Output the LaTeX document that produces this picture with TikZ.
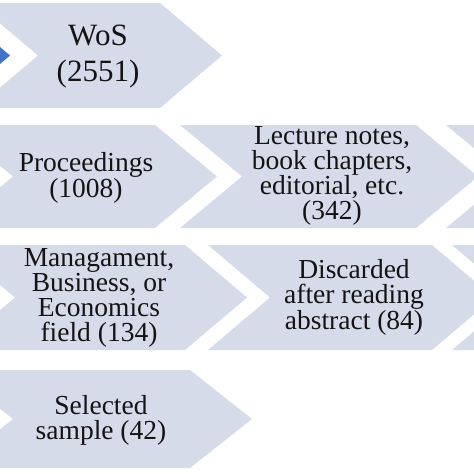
\documentclass[tikz,border=0pt]{standalone}
\usepackage{fontspec}
\setmainfont{Liberation Serif}
\usetikzlibrary{positioning}

% chevron: left x, top-right corner x, top y, bottom y
\newcommand{\chev}[5][boxfill]{%
	\fill[#1] (#2,#4) -- (#3,#4) -- (#3+62,{(#4+#5)/2}) -- (#3,#5) -- (#2,#5) -- (#2+62,{(#4+#5)/2}) -- cycle;}

\begin{document}
\begin{tikzpicture}[x=1pt, y=-1pt, boxfill/.style={fill={rgb,255:red,214;green,219;blue,234}}, blueboxfill/.style={fill={rgb,255:red,68;green,114;blue,196}}, main text/.style={align=center, inner sep=0pt, text={rgb,255:red,20;green,20;blue,20}, font=\fontsize{27.5}{25}\selectfont}]
	\useasboundingbox (0,0) rectangle (474,474);
	\clip (0,0) rectangle (474,474);
	\fill[white] (0,0) rectangle (474,474);

	% row 1
	\chev[blueboxfill]{-200}{-52}{3}{108}
	\chev{-24}{160}{3}{108}
	\node[main text, font=\fontsize{31}{28}\selectfont] (wos) at (98,57) {WoS\\[8pt](2551)};

	% row 2
	\chev{-49}{155}{125}{228}
	\chev{180}{416}{125}{228}
	\chev{446}{700}{125}{228}
	\node[main text] (proc) at (86,178) {Proceedings\\(1008)};
	\node[main text] (notes) at (332,176) {Lecture notes,\\book chapters,\\editorial, etc.\\(342)};

	% row 3
	\chev{-47}{185}{245}{350}
	\chev{208}{432}{245}{350}
	\chev{452}{700}{245}{350}
	\node[main text] (field) at (99,298) {Managament,\\Business, or\\Economics\\field (134)};
	\node[main text] (abstract) at (354,297) {Discarded\\after reading\\abstract (84)};

	% row 4
	\chev{-49}{190}{370}{468}
	\node[main text] (sample) at (101,420) {Selected\\sample (42)};
\end{tikzpicture}
\end{document}
